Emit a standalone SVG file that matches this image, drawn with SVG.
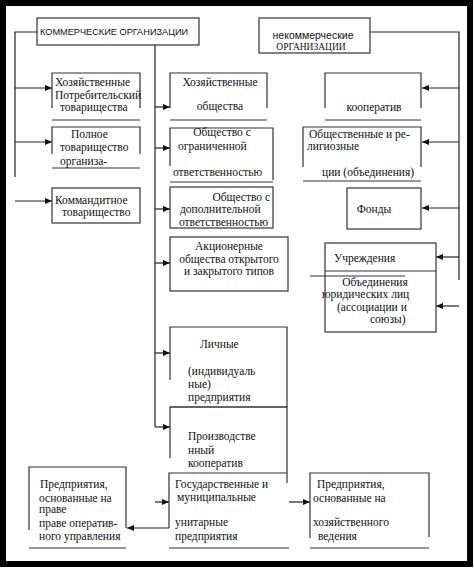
<svg xmlns="http://www.w3.org/2000/svg" width="474" height="568" viewBox="0 0 474 568">
<defs>
<marker id="ah" viewBox="0 0 8 8" refX="8" refY="4" markerWidth="7" markerHeight="7" markerUnits="userSpaceOnUse" orient="auto">
<path d="M0,0.5 L8,4 L0,7.5 Z" fill="#111"/>
</marker>
<style>
.b{fill:none;stroke:#333;stroke-width:1.2}
.c{fill:none;stroke:#222;stroke-width:1.2}
.a{fill:none;stroke:#222;stroke-width:1.2;marker-end:url(#ah)}
.t{font-family:'Liberation Serif','Times New Roman',serif;font-size:11.5px;fill:#111}
.s{font-family:'Liberation Sans',Arial,sans-serif;fill:#111}
.m{text-anchor:middle}
.e{text-anchor:end}
</style>
</defs>
<rect x="0" y="0" width="474" height="568" fill="#fff"/>
<rect x="3" y="3" width="467" height="561" fill="none" stroke="#000" stroke-width="6"/>

<g id="connectors">
<polyline class="c" points="37,32 15,32 15,177"/>
<line class="a" x1="15" y1="88" x2="52" y2="88"/>
<line class="a" x1="15" y1="142" x2="52" y2="142"/>
<line class="a" x1="15" y1="201" x2="52" y2="201"/>
<line class="c" x1="155" y1="45" x2="155" y2="427"/>
<line class="a" x1="155" y1="107" x2="170" y2="107"/>
<line class="a" x1="155" y1="148" x2="170" y2="148"/>
<line class="a" x1="155" y1="209" x2="170" y2="209"/>
<line class="a" x1="155" y1="263" x2="170" y2="263"/>
<line class="a" x1="155" y1="353" x2="170" y2="353"/>
<line class="a" x1="155" y1="427" x2="170" y2="427"/>
<polyline class="c" points="370,32 459,32 459,280"/>
<line class="a" x1="459" y1="88" x2="422" y2="88"/>
<line class="a" x1="459" y1="142" x2="422" y2="142"/>
<line class="a" x1="459" y1="208" x2="422" y2="208"/>
<line class="a" x1="459" y1="257" x2="436" y2="257"/>
<line class="a" x1="459" y1="306" x2="436" y2="306"/>
<line class="a" x1="155" y1="502" x2="169" y2="502"/>
<line class="a" x1="169" y1="528" x2="127" y2="528"/>
<line class="a" x1="289" y1="502" x2="310" y2="502"/>
</g>

<g id="kommercheskie">
<rect class="b" x="37" y="18" width="162" height="27"/>
<text class="s" x="40" y="35" style="font-size:9.2px">КОММЕРЧЕСКИЕ ОРГАНИЗАЦИИ</text>
</g>

<g id="nekommercheskie">
<rect class="b" x="259" y="18" width="111" height="35"/>
<text class="s m" x="313" y="39" style="font-size:10.5px">некоммерческие</text>
<text class="t m" x="311" y="50" style="font-size:9.5px">ОРГАНИЗАЦИИ</text>
</g>

<g id="khoz-tov">
<polyline class="b" points="52,108 52,73 140,73 140,108"/>
<line class="b" x1="52" y1="120" x2="140" y2="120"/>
<text class="t" x="55" y="86">Хозяйственные</text>
<text class="t" x="55" y="99">Потребительский</text>
<text class="t" x="60" y="111">товарищества</text>
</g>

<g id="polnoe">
<polyline class="b" points="52,154 52,127 140,127 140,154"/>
<line class="b" x1="52" y1="168" x2="140" y2="168"/>
<text class="t" x="71" y="138">Полное</text>
<text class="t" x="60" y="151">товарищество</text>
<text class="t" x="60" y="165">организа-</text>
</g>

<g id="kommanditnoe">
<rect class="b" x="52" y="188" width="88" height="35"/>
<text class="t" x="55" y="204">Коммандитное</text>
<text class="t" x="62" y="216">товарищество</text>
</g>

<g id="khoz-obsh">
<polyline class="b" points="170,108 170,73 267,73 267,108"/>
<line class="b" x1="170" y1="120" x2="267" y2="120"/>
<text class="t m" x="220" y="86">Хозяйственные</text>
<text class="t m" x="220" y="110">общества</text>
</g>

<g id="ooo">
<polyline class="b" points="170,166 170,128 273,128 273,180"/>
<line class="b" x1="170" y1="182" x2="273" y2="182"/>
<text class="t m" x="222" y="136">Общество с</text>
<text class="t" x="178" y="150">ограниченной</text>
<text class="t" x="173" y="176">ответственностью</text>
</g>

<g id="odo">
<rect class="b" x="170" y="187" width="103" height="41"/>
<text class="t e" x="270" y="201">Общество с</text>
<text class="t" x="180" y="213">дополнительной</text>
<text class="t" x="179" y="226">ответственностью</text>
</g>

<g id="ao">
<rect class="b" x="170" y="237" width="118" height="54"/>
<text class="t m" x="229" y="250">Акционерные</text>
<text class="t m" x="229" y="263">общества открытого</text>
<text class="t m" x="229" y="275">и закрытого типов</text>
</g>

<g id="lichnye">
<polyline class="b" points="170,380 170,327 287,327 287,407"/>
<line class="b" x1="170" y1="407" x2="287" y2="407"/>
<text class="t" x="200" y="348">Личные</text>
<text class="t" x="188" y="375">(индивидуаль</text>
<text class="t" x="188" y="388">ные)</text>
<text class="t" x="188" y="401">предприятия</text>
</g>

<g id="proizv">
<polyline class="b" points="170,458 170,407 287,407 287,483"/>
<text class="t" x="188" y="440">Производстве</text>
<text class="t" x="188" y="454">нный</text>
<text class="t" x="188" y="467">кооператив</text>
</g>

<g id="gos">
<polyline class="b" points="169,528 169,473 287,473"/>
<line class="b" x1="169" y1="548" x2="289" y2="548"/>
<text class="t" x="175" y="488">Государственные и</text>
<text class="t" x="177" y="501">муниципальные</text>
<text class="t" x="175" y="526">унитарные</text>
<text class="t" x="175" y="540">предприятия</text>
</g>

<g id="oper">
<polyline class="b" points="29,530 29,467 126,467 126,528"/>
<line class="b" x1="29" y1="548" x2="126" y2="548"/>
<text class="t" x="40" y="488">Предприятия,</text>
<text class="t" x="39" y="502">основанные на</text>
<text class="t" x="39" y="513">праве</text>
<text class="t" x="39" y="527">праве оператив-</text>
<text class="t" x="39" y="540">ного управления</text>
</g>

<g id="khozved">
<polyline class="b" points="310,538 310,473 429,473 429,537"/>
<line class="b" x1="310" y1="548" x2="429" y2="548"/>
<text class="t" x="317" y="488">Предприятия,</text>
<text class="t" x="313" y="502">основанные на</text>
<text class="t" x="313" y="526">хозяйственного</text>
<text class="t" x="318" y="540">ведения</text>
</g>

<g id="kooperativ">
<polyline class="b" points="325,108 325,73 421,73 421,108"/>
<line class="b" x1="325" y1="120" x2="421" y2="120"/>
<text class="t m" x="374" y="111">кооператив</text>
</g>

<g id="obshestvennye">
<polyline class="b" points="303,167 303,127 421,127 421,167"/>
<line class="b" x1="303" y1="181" x2="421" y2="181"/>
<text class="t" x="309" y="138">Общественные и ре-</text>
<text class="t" x="307" y="150">лигиозные</text>
<text class="t" x="322" y="176">ции (объединения)</text>
</g>

<g id="fondy">
<rect class="b" x="347" y="188" width="74" height="41"/>
<text class="t m" x="374" y="213">Фонды</text>
</g>

<g id="uchrezhdeniya">
<rect class="b" x="325" y="243" width="111" height="89"/>
<line class="b" x1="325" y1="271" x2="436" y2="271"/>
<line class="b" x1="310" y1="276" x2="405" y2="276"/>
<text class="t" x="334" y="262">Учреждения</text>
<text class="t m" x="375" y="286">Объединения</text>
<text class="t" x="322" y="298">юридических лиц</text>
<text class="t" x="337" y="311">(ассоциации и</text>
<text class="t" x="370" y="323">союзы)</text>
</g>
</svg>
